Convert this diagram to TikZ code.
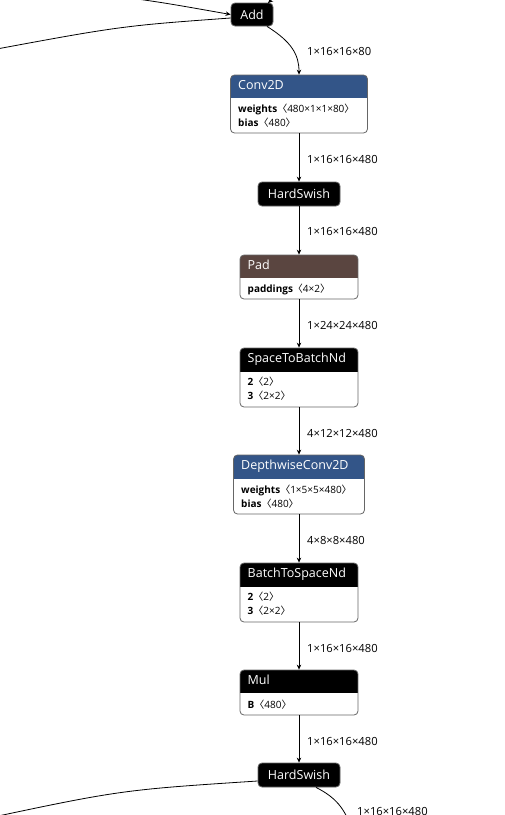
\documentclass[tikz,border=0pt]{standalone}
\usepackage{fontspec}
\setmainfont{Open Sans}
\newfontfamily\cjkfont{Noto Sans CJK SC}
\usetikzlibrary{arrows.meta}
\definecolor{layerblue}{HTML}{335588}
\definecolor{shapebrown}{HTML}{5A4540}
\definecolor{bordercol}{HTML}{666666}
\newcommand\br[1]{{\cjkfont 〈}#1{\cjkfont 〉}}
\tikzset{
  x=1pt, y=-1pt,
  edge/.style={draw=black, line width=0.8pt, -{Stealth[length=5pt,width=4.5pt]}},
  plainedge/.style={draw=black, line width=0.8pt},
  elabel/.style={font=\fontsize{11.2}{13}\selectfont, anchor=west, inner sep=0pt},
  bnode/.style={fill=black, draw=bordercol, line width=0.8pt, rounded corners=4pt, text=white,
    font=\fontsize{12.5}{14}\selectfont, inner sep=0pt},
  titletxt/.style={text=white, font=\fontsize{12.5}{14}\selectfont, inner sep=0pt, anchor=base west},
  bodytxt/.style={font=\fontsize{10}{12}\selectfont, inner sep=0pt, anchor=base west},
  boxframe/.style={draw=bordercol, line width=0.8pt, rounded corners=4pt, inner sep=0pt},
}
% name, x1, x2, ytop, ymid, ybot, color, title
\newcommand\opbox[8]{%
  \fill[white, rounded corners=4pt] (#2,#4) rectangle (#3,#6);
  \begin{scope}
    \clip[rounded corners=4pt] (#2,#4) rectangle (#3,#6);
    \fill[#7] (#2,#4) rectangle (#3,#5);
  \end{scope}
  \node[boxframe, minimum width={(#3-#2)*1pt}, minimum height={(#6-#4)*1pt}] (#1) at ({(#2+#3)/2},{(#4+#6)/2}) {};
  \node[titletxt] (#1-t) at ({#2+7.5},{#4+14.5}) {#8};
}
\begin{document}
\begin{tikzpicture}
\useasboundingbox (0,0) rectangle (505,815);
\clip (0,0) rectangle (505,815);

% black nodes
\node[bnode, minimum width=42pt, minimum height=23pt] (add) at (252,14.5) {Add};
\node[bnode, minimum width=82pt, minimum height=24pt] (hs1) at (299,194) {HardSwish};
\node[bnode, minimum width=82pt, minimum height=24pt] (hs2) at (299,775) {HardSwish};

% boxes
\opbox{conv}{230.5}{367.5}{75}{98}{133}{layerblue}{Conv2D}
\node[bodytxt] (conv-b1) at (238,112.5) {\textbf{weights}\br{480×1×1×80}};
\node[bodytxt] (conv-b2) at (238,126.5) {\textbf{bias}\br{480}};

\opbox{pad}{240}{358}{255}{278}{299}{shapebrown}{Pad}
\node[bodytxt] (pad-b1) at (247.5,292) {\textbf{paddings}\br{4×2}};

\opbox{stb}{240}{358}{348}{372}{407}{black}{SpaceToBatchNd}
\node[bodytxt] (stb-b1) at (247.5,385.5) {\textbf{2}\br{2}};
\node[bodytxt] (stb-b2) at (247.5,399.5) {\textbf{3}\br{2×2}};

\opbox{dw}{233.5}{364.5}{455}{479}{514}{layerblue}{DepthwiseConv2D}
\node[bodytxt] (dw-b1) at (241,493.5) {\textbf{weights}\br{1×5×5×480}};
\node[bodytxt] (dw-b2) at (241,507.5) {\textbf{bias}\br{480}};

\opbox{bts}{240}{358}{563}{587}{622}{black}{BatchToSpaceNd}
\node[bodytxt] (bts-b1) at (247.5,600.5) {\textbf{2}\br{2}};
\node[bodytxt] (bts-b2) at (247.5,614.5) {\textbf{3}\br{2×2}};

\opbox{mul}{240}{358}{670}{693}{715}{black}{Mul}
\node[bodytxt] (mul-b1) at (247.5,708) {\textbf{B}\br{480}};

% free ends
\coordinate (in1) at (100,-6);
\coordinate (in2) at (290,-25);
\coordinate (out1) at (-30,54);
\coordinate (out2) at (-30,822);
\coordinate (out3) at (352,830);

% connectors
\draw[edge] (in1) .. controls (160,2) .. (add.west);
\draw[edge] (in2) .. controls (280,-8) .. (268,3);
\draw[plainedge] (add.west) ++(0,3.5) .. controls (120,26) .. (out1);
\draw[edge] (add.south) ++(15,0) .. controls (292,42) and (299,55) .. (conv.north);
\draw[edge] (conv.south) -- (hs1.north);
\draw[edge] (hs1.south) -- (pad.north);
\draw[edge] (pad.south) -- (stb.north);
\draw[edge] (stb.south) -- (dw.north);
\draw[edge] (dw.south) -- (bts.north);
\draw[edge] (bts.south) -- (mul.north);
\draw[edge] (mul.south) -- (hs2.north);
\draw[plainedge] (hs2.west) ++(0,6) .. controls (120,790) .. (out2);
\draw[plainedge] (hs2.south) ++(17,0) .. controls (335,797) and (345,808) .. (out3);

% edge labels
\node[elabel] (l1) at (307,51) {1×16×16×80};
\node[elabel] (l2) at (307,159) {1×16×16×480};
\node[elabel] (l3) at (307,231) {1×16×16×480};
\node[elabel] (l4) at (307,325) {1×24×24×480};
\node[elabel] (l5) at (307,433) {4×12×12×480};
\node[elabel] (l6) at (307,540) {4×8×8×480};
\node[elabel] (l7) at (307,648) {1×16×16×480};
\node[elabel] (l8) at (307,741) {1×16×16×480};
\node[elabel] (l9) at (357,811.5) {1×16×16×480};
\end{tikzpicture}
\end{document}
